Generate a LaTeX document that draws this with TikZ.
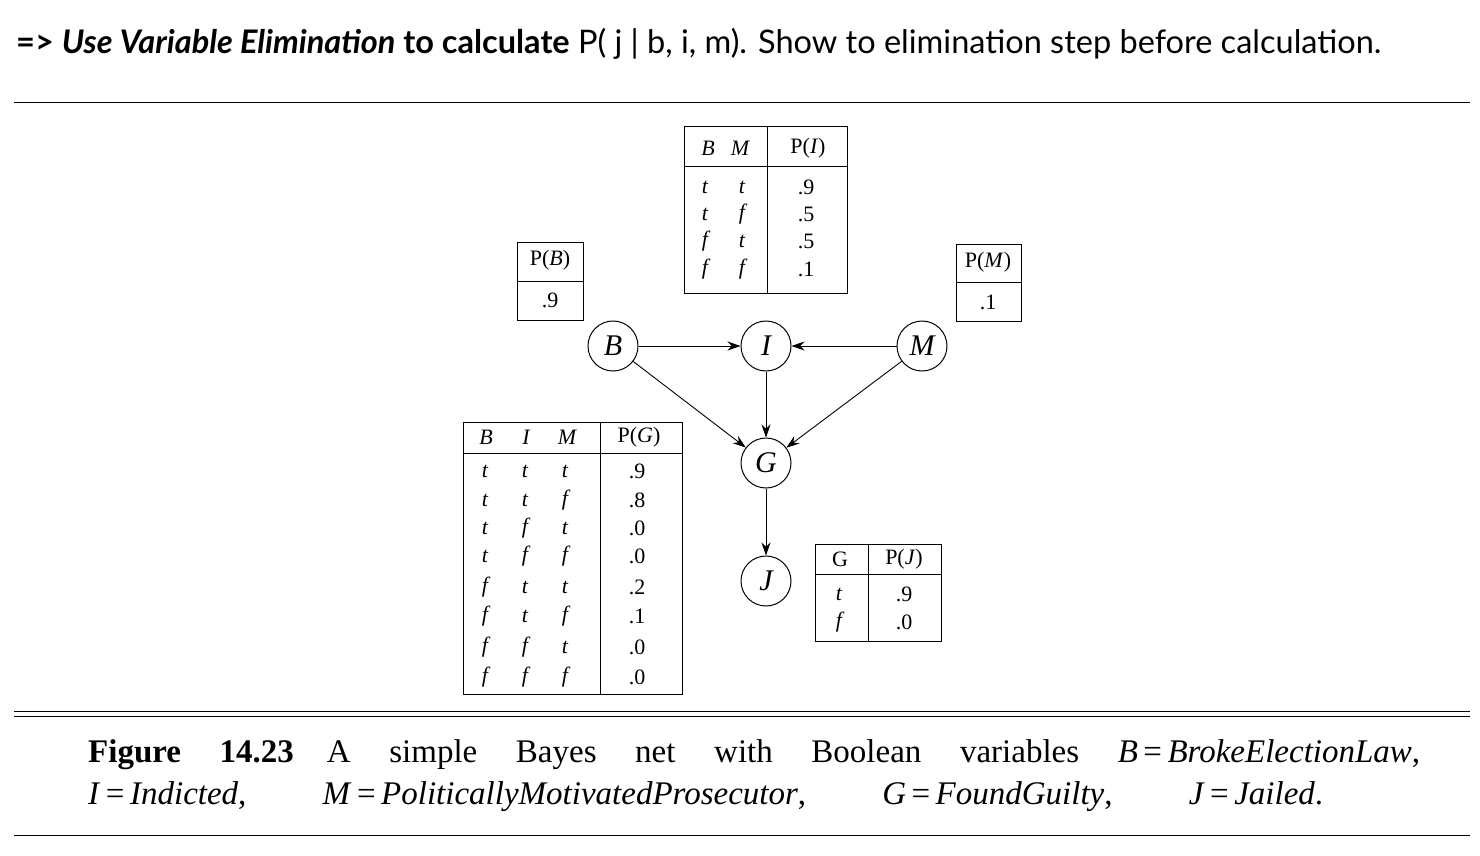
\documentclass[tikz,border=0pt]{standalone}
\usepackage{fontspec}
\setmainfont{Liberation Serif}
\newfontfamily\topfont{Lato}
\usetikzlibrary{arrows.meta}
\begin{document}
\begin{tikzpicture}[x=1pt,y=-1pt,
  vnode/.style={circle,draw,line width=1pt,minimum size=50pt,inner sep=0pt,font=\fontsize{30}{30}\selectfont\itshape},
  arr/.style={line width=0.9pt,-{Stealth[length=13pt,width=9pt]}},
  tb/.style={draw,line width=0.9pt},
  tt/.style={font=\fontsize{22}{22}\selectfont,inner sep=0pt},
  ti/.style={font=\fontsize{22}{22}\selectfont\itshape,inner sep=0pt}]
\useasboundingbox (0,0) rectangle (1480,856);
% heading
\node[anchor=west,inner sep=0pt,font=\topfont\fontsize{32.5}{32}\selectfont] (head) at (16,44)
 {\textbf{=> \textit{Use Variable Elimination} to calculate} P( j | b, i, m). Show to elimination step before calculation.};
\draw[line width=0.9pt] (14,102) -- (1470,102);
\draw[line width=0.9pt] (14,711) -- (1470,711);
\draw[line width=0.9pt] (14,716) -- (1470,716);
\draw[line width=0.9pt] (14,835) -- (1470,835);
% nodes
\node[vnode] (B) at (613,346) {B};
\node[vnode] (I) at (766,346) {I};
\node[vnode] (M) at (922,346) {M};
\node[vnode] (G) at (766,463) {G};
\node[vnode] (J) at (766,581) {J};
\draw[arr] (B) -- (I);
\draw[arr] (M) -- (I);
\draw[arr] (B) -- (G);
\draw[arr] (I) -- (G);
\draw[arr] (M) -- (G);
\draw[arr] (G) -- (J);
% P(B)
\draw[tb] (517,242) rectangle (583,320); \draw[tb] (517,281) -- (583,281);
\node[tt] (pb) at (550,260) {P(\textit{B})};
\node[tt] (pbv) at (550,300) {.9};
% P(M)
\draw[tb] (956,244) rectangle (1021,321); \draw[tb] (956,282) -- (1021,282);
\node[tt] (pm) at (988,262) {P(\textit{M})};
\node[tt] (pmv) at (988,302) {.1};
% P(I)
\draw[tb] (684,126) rectangle (847,293); \draw[tb] (684,166) -- (847,166); \draw[tb] (767,126) -- (767,293);
\node[ti] (ih1) at (708,148) {B};\node[ti] (ih2) at (740,148) {M};
\node[tt] (ih3) at (808,148) {P(\textit{I})};
\foreach \a/\b/\v/\y in {t/t/.9/187,t/f/.5/214,f/t/.5/241,f/f/.1/269}{
  \node[ti] at (705,\y) {\a};\node[ti] at (742,\y) {\b};\node[tt] at (806,\y) {\v};}
% P(G)
\draw[tb] (463,422) rectangle (682,694); \draw[tb] (463,453) -- (682,453); \draw[tb] (600,422) -- (600,694);
\node[ti] (gh1) at (486,437) {B};\node[ti] (gh2) at (526,437) {I};\node[ti] (gh3) at (567,437) {M};
\node[tt] (gh4) at (639,437) {P(\textit{G})};
\foreach \a/\b/\c/\v/\y in {t/t/t/.9/471,t/t/f/.8/500,t/f/t/.0/528,t/f/f/.0/556,f/t/t/.2/587,f/t/f/.1/616,f/f/t/.0/647,f/f/f/.0/677}{
  \node[ti] at (485,\y) {\a};\node[ti] at (525,\y) {\b};\node[ti] at (565,\y) {\c};\node[tt] at (637,\y) {\v};}
% P(J)
\draw[tb] (815,544) rectangle (941,641); \draw[tb] (815,574) -- (941,574); \draw[tb] (868,544) -- (868,641);
\node[tt] (jh1) at (840,559) {G};\node[tt] (jh2) at (904,559) {P(\textit{J})};
\node[ti] at (839,594) {t};\node[tt] at (904,594) {.9};
\node[ti] at (839,622) {f};\node[tt] at (904,622) {.0};
% caption
\node[anchor=west,inner sep=0pt,font=\fontsize{33}{33}\selectfont] (cap1) at (88,755)
 {\makebox[1332pt][s]{\textbf{Figure 14.23}\quad A simple Bayes net with Boolean variables \textit{B}\,=\,\textit{BrokeElectionLaw},}};
\node[anchor=west,inner sep=0pt,font=\fontsize{33}{33}\selectfont] (cap2) at (88,797)
 {\makebox[1235pt][s]{\textit{I}\,=\,\textit{Indicted}, \textit{M}\,=\,\textit{PoliticallyMotivatedProsecutor}, \textit{G}\,=\,\textit{FoundGuilty}, \textit{J}\,=\,\textit{Jailed}.}};
\end{tikzpicture}
\end{document}
